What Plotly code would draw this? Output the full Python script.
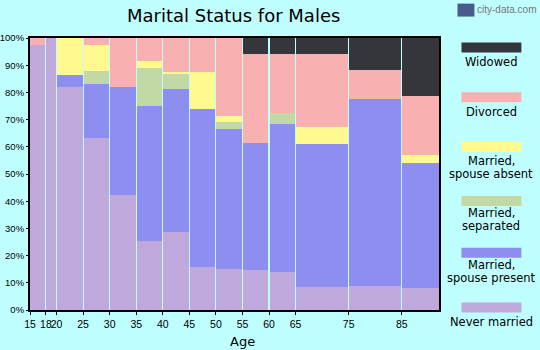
import plotly.graph_objects as go

# Age group edges (years)
edges = [15, 18, 20, 25, 30, 35, 40, 45, 50, 55, 60, 65, 75, 85, 92]

never_married   = [97.3, 100.0, 81.9, 63.2, 42.1, 25.3, 28.5, 15.7, 15.2, 14.8, 14.1, 8.6, 9.0, 8.2]
spouse_present  = [0.0, 0.0, 4.4, 19.8, 39.8, 49.6, 52.6, 58.1, 51.3, 46.6, 54.2, 52.4, 68.5, 45.8]
separated       = [0.0, 0.0, 0.0, 4.7, 0.0, 13.9, 6.0, 0.0, 2.5, 0.0, 4.0, 0.0, 0.0, 0.0]
spouse_absent   = [0.0, 0.0, 13.7, 9.6, 0.0, 2.6, 0.3, 13.6, 2.2, 0.0, 0.0, 6.2, 0.0, 3.0]
divorced        = [2.7, 0.0, 0.0, 2.7, 18.1, 8.6, 12.6, 12.6, 28.8, 32.6, 22.0, 26.8, 10.6, 21.6]
widowed         = [0.0, 0.0, 0.0, 0.0, 0.0, 0.0, 0.0, 0.0, 0.0, 6.0, 5.7, 6.0, 11.9, 21.4]

tick_vals = [15, 18, 20, 25, 30, 35, 40, 45, 50, 55, 60, 65, 75, 85]
y_ticks = list(range(0, 101, 10))

series = [
    ("Never married", never_married, "#bfa8dc"),
    ("Married, spouse present", spouse_present, "#8e8ef0"),
    ("Married, separated", separated, "#c2d9a6"),
    ("Married, spouse absent", spouse_absent, "#fff98f"),
    ("Divorced", divorced, "#f8b1b0"),
    ("Widowed", widowed, "#35363c"),
]

BG = "#bfffff"
gap = 0.1  # half gap in years between bars
n = len(edges) - 1
lefts, widths = [], []
for i in range(n):
    l = edges[i] + (gap if i > 0 else 0)
    r = edges[i + 1] - (gap if i < n - 1 else 0)
    lefts.append(l)
    widths.append(r - l)

fig = go.Figure()
for name, vals, color in series:
    fig.add_trace(go.Bar(
        x=lefts, y=vals, width=widths, offset=0,
        marker=dict(color=color, line=dict(width=0)),
        name=name, showlegend=False,
    ))

PL, PR, PT, PB = 30, 439.5, 37.5, 310.5
PW, PH = PR - PL, PB - PT

def px(v):
    return (v - PL) / PW

def py(v):
    return (PB - v) / PH

fig.update_layout(
    barmode="stack",
    width=540, height=350,
    margin=dict(l=PL, r=540 - PR, t=PT, b=350 - PB),
    paper_bgcolor=BG, plot_bgcolor=BG,
    bargap=0,
    font=dict(family="DejaVu Sans", color="#000"),
    xaxis=dict(range=[15, 92], tickvals=tick_vals, ticktext=[str(t) for t in tick_vals],
               showgrid=False, zeroline=False, showline=True, linecolor="#000", linewidth=2,
               mirror=True, ticks="outside", ticklen=3, tickcolor="#000", tickangle=0,
               automargin=False,
               tickfont=dict(family="Liberation Sans Narrow, Liberation Sans", size=10.5, color="#000")),
    yaxis=dict(range=[0, 100], tickvals=y_ticks, ticktext=[f"{v}%" for v in y_ticks],
               showgrid=False, zeroline=False, showline=True, linecolor="#000", linewidth=2,
               mirror=True, ticks="outside", ticklen=2, tickcolor="#000", automargin=False,
               tickfont=dict(family="Liberation Sans Narrow, Liberation Sans", size=9.5, color="#000")),
)

fig.add_annotation(text="Age", xref="paper", yref="paper",
                   x=px(243), y=py(342), showarrow=False, xanchor="center", yanchor="middle",
                   font=dict(family="DejaVu Sans", size=13, color="#000"))

fig.add_annotation(text="Marital Status for Males", xref="paper", yref="paper",
                   x=px(234), y=py(15), showarrow=False,
                   xanchor="center", yanchor="middle",
                   font=dict(family="DejaVu Sans", size=18, color="#000"))

fig.add_annotation(text="city-data.com", xref="paper", yref="paper",
                   x=px(476), y=py(9), showarrow=False,
                   xanchor="left", yanchor="middle",
                   font=dict(family="Liberation Sans", size=10, color="#777"))
fig.add_shape(type="rect", xref="paper", yref="paper",
              x0=px(458), x1=px(475), y0=py(16), y1=py(3),
              fillcolor="#4a5a8a", line=dict(width=0))

# Legend drawn manually on the right
legend_colors = ["#35363c", "#f8b1b0", "#fff98f", "#c2d9a6", "#8e8ef0", "#bfa8dc"]
legend_rect_top = [42, 92, 142, 196, 248, 303]
legend_labels = [
    ["Widowed"], ["Divorced"], ["Married,", "spouse absent"],
    ["Married,", "separated"], ["Married,", "spouse present"], ["Never married"],
]
legend_label_y = [[62], [112], [161, 174], [213, 226], [265.5, 278.5], [323]]
for color, ytop, labels, ys in zip(legend_colors, legend_rect_top, legend_labels, legend_label_y):
    fig.add_shape(type="rect", xref="paper", yref="paper",
                  x0=px(462), x1=px(522), y0=py(ytop + 10), y1=py(ytop),
                  fillcolor=color, line=dict(width=0))
    for lab, yy in zip(labels, ys):
        fig.add_annotation(text=lab, xref="paper", yref="paper",
                           x=px(492), y=py(yy), showarrow=False,
                           xanchor="center", yanchor="middle",
                           font=dict(family="DejaVu Sans", size=11.5, color="#000"))

fig.write_html("out.html")
